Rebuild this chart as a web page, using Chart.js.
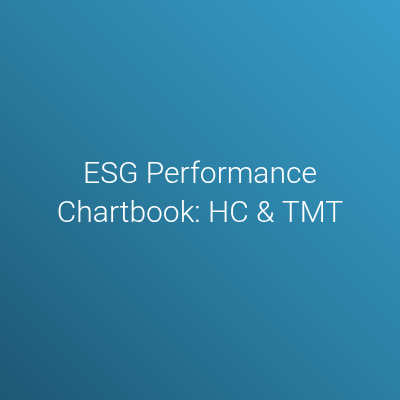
<!DOCTYPE html>
<html lang="en">
<head>
  <meta charset="UTF-8">
  <title>ESG Performance Chartbook</title>
  <script src="https://cdn.jsdelivr.net/npm/chart.js"></script>
  <style>
    html, body { margin: 0; padding: 0; }
    body { width: 400px; height: 400px; overflow: hidden; }
    #wrap { width: 400px; height: 400px; position: relative; }
  </style>
</head>
<body>
  <div id="wrap"><canvas id="cover"></canvas></div>

  <script>
    // title card: no series, only the two title lines
    const titleLines = ['ESG Performance', 'Chartbook: HC & TMT'];
    const categories = [];
    const values = [];

    // diagonal gradient, dark bottom-left to light top-right
    const gradientBg = {
      id: 'gradientBg',
      beforeDraw(chart) {
        const { ctx, width, height } = chart;
        const g = ctx.createLinearGradient(0, height, width, 0);
        g.addColorStop(0, '#1e5774');
        g.addColorStop(0.5, '#2b7fa3');
        g.addColorStop(1, '#379dca');
        ctx.save();
        ctx.fillStyle = g;
        ctx.fillRect(0, 0, width, height);
        ctx.restore();
      }
    };

    new Chart(document.getElementById('cover'), {
      type: 'bar',
      data: { labels: categories, datasets: [{ data: values }] },
      options: {
        responsive: true,
        maintainAspectRatio: false,
        animation: false,
        layout: { padding: 0 },
        scales: { x: { display: false }, y: { display: false } },
        plugins: {
          legend: { display: false },
          tooltip: { enabled: false },
          title: {
            display: true,
            text: titleLines,
            color: '#ffffff',
            font: { family: 'Roboto', size: 30, weight: '300', lineHeight: 1.3 },
            padding: { top: 156, bottom: 0 }
          }
        }
      },
      plugins: [gradientBg]
    });
  </script>
</body>
</html>
